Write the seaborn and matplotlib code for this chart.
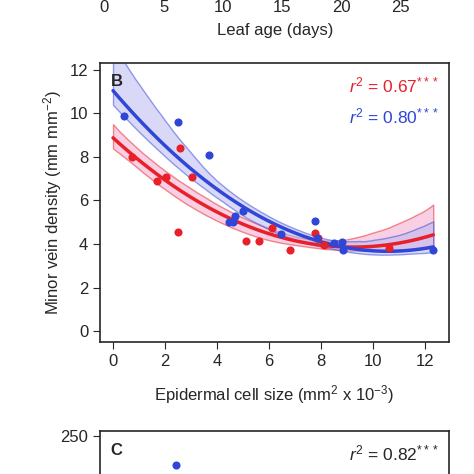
import numpy as np
import pandas as pd
import seaborn as sns
import matplotlib.pyplot as plt

# Panel B data
blue_x = [0.41, 2.48, 3.67, 5.0, 4.7, 4.47, 4.62, 6.47, 7.75, 7.84, 8.5, 8.8, 8.82, 12.3]
blue_y = [9.85, 9.58, 8.1, 5.52, 5.3, 5.0, 5.0, 4.46, 5.06, 4.26, 4.03, 4.08, 3.73, 3.73]
red_x = [0.72, 1.7, 2.05, 2.58, 2.5, 3.03, 5.1, 5.6, 6.1, 6.8, 7.75, 7.87, 8.1, 10.6]
red_y = [8.0, 6.9, 7.07, 8.4, 4.56, 7.07, 4.13, 4.13, 4.72, 3.75, 4.52, 4.26, 3.95, 3.84]

# Panel C (only the top is visible)
c_x = [2.4]
c_y = [224]

leaf_ticks = [0, 5, 10, 15, 20, 25]

RED = "#e8202a"
BLUE = "#2f46d6"

sns.set_style("ticks")
plt.rcParams["font.family"] = ["Liberation Sans", "DejaVu Sans"]
plt.rcParams["mathtext.fontset"] = "custom"
plt.rcParams["mathtext.rm"] = "Liberation Sans"
plt.rcParams["mathtext.it"] = "Liberation Sans:italic"

fig = plt.figure(figsize=(4.74, 4.74), dpi=100)

# axis of the panel above, only its labels show
ax_a = fig.add_axes([0.215, 1.01, 0.73, 0.4])
ax_a.set_xlim(-0.2, 29)
ax_a.set_xticks(leaf_ticks)
ax_a.tick_params(labelsize=12, length=0)
ax_a.set_yticks([])
for s in ax_a.spines.values():
    s.set_visible(False)
ax_a.set_xlabel("Leaf age (days)", fontsize=12, labelpad=6)

# Panel B
ax = fig.add_axes([0.211, 0.278, 0.736, 0.589])
ax.set_xlim(0, 12.3)
dfb = pd.DataFrame({"x": blue_x, "y": blue_y})
dfr = pd.DataFrame({"x": red_x, "y": red_y})
for df, col, fill in [(dfr, RED, "#f2a0c8"), (dfb, BLUE, "#b4b4f0")]:
    sns.regplot(data=df, x="x", y="y", order=2, ci=68, n_boot=2000, seed=3,
                ax=ax, truncate=False,
                scatter_kws=dict(s=34, color=col, alpha=1, zorder=4, linewidths=0),
                line_kws=dict(color=col, lw=2.5, zorder=3))
    band = ax.collections[-1]
    band.set_facecolor(fill)
    band.set_alpha(0.5)
    band.set_edgecolor(col)
    band.set_linewidth(1)

ax.set_xlim(-0.5, 12.9)
ax.set_ylim(-0.5, 12.3)
ax.set_xticks(range(0, 13, 2))
ax.set_yticks(range(0, 13, 2))
ax.tick_params(labelsize=12, direction="out", length=5)
for s in ax.spines.values():
    s.set_linewidth(1.2)
ax.set_xlabel("Epidermal cell size (mm$^2$ x 10$^{-3}$)", fontsize=12, labelpad=10)
ax.set_ylabel("Minor vein density (mm mm$^{-2}$)", fontsize=12)
ax.text(0.03, 0.96, "B", transform=ax.transAxes, fontsize=12, fontweight="bold", va="top")
ax.text(0.97, 0.92, "$r^2$ = 0.67$^{***}$", transform=ax.transAxes, color=RED,
        fontsize=12.5, ha="right", va="center")
ax.text(0.97, 0.81, "$r^2$ = 0.80$^{***}$", transform=ax.transAxes, color=BLUE,
        fontsize=12.5, ha="right", va="center")

# Panel C (top only)
ax_c = fig.add_axes([0.211, -0.5, 0.736, 0.591])
sns.scatterplot(x=c_x, y=c_y, ax=ax_c, color=BLUE, s=34, linewidth=0)
ax_c.set_xlim(-0.5, 12.9)
ax_c.set_ylim(0, 255)
ax_c.set_yticks([250])
ax_c.set_xticks([])
ax_c.tick_params(labelsize=12, direction="out", length=5)
for s in ax_c.spines.values():
    s.set_linewidth(1.2)
ax_c.text(0.03, 0.955, "C", transform=ax_c.transAxes, fontsize=12, fontweight="bold", va="top")
ax_c.text(0.97, 0.955, "$r^2$ = 0.82$^{***}$", transform=ax_c.transAxes,
          fontsize=12.5, ha="right", va="top")

fig.savefig("out.png", dpi=100)
